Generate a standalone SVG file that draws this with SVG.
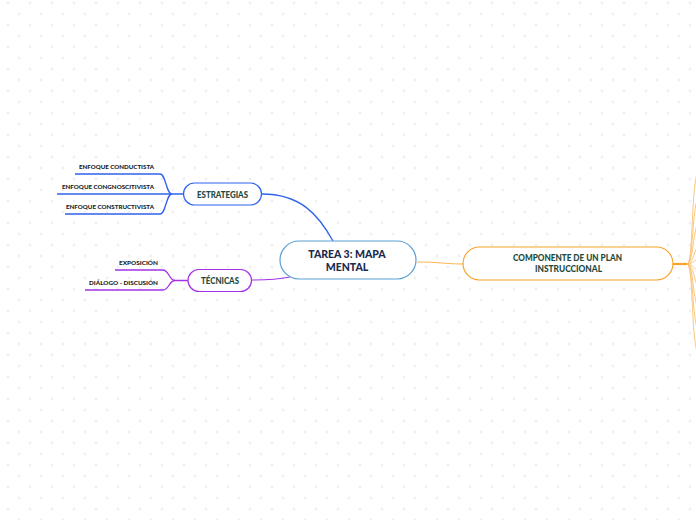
<svg xmlns="http://www.w3.org/2000/svg" width="696" height="520" viewBox="0 0 696 520">
<defs>
<pattern id="grid" x="0" y="0" width="22" height="22" patternUnits="userSpaceOnUse">
<path d="M8 1.5v3M6.5 3h3M19 12.5v3M17.5 14h3" stroke="#e4e4e4" stroke-width="0.7" fill="none"/>
</pattern>
<style>
.node{fill:#fff;stroke-width:1.2}
.lbl{font-family:Lato,"Open Sans",sans-serif;font-weight:900;text-anchor:middle}
.sub{font-family:Lato,"Open Sans",sans-serif;font-weight:900;font-size:6px;fill:#1a1a1a;text-anchor:end}
.blue{stroke:#2f63f0;fill:none}
.purple{stroke:#a332e6;fill:none}
.orange{stroke:#f7a326;fill:none}
.fan{stroke:#fbbf70;fill:none;stroke-width:0.9}
</style>
</defs>
<rect width="696" height="520" fill="#fff"/>
<rect width="696" height="520" fill="url(#grid)"/>
<g id="connectors">
<path class="blue" stroke-width="1.3" d="M262 194 C300 194 318 214 333 241"/>
<path class="purple" stroke-width="1.1" d="M290 277 C275 280 265 280 252 280"/>
<path class="orange" stroke-width="0.8" stroke="#fbc57c" d="M417 262 C440 262 445 264 463 264"/>
<path class="blue" stroke-width="1.3" d="M184 194 H172 C166 194 166 174 160 174 H75"/>
<path class="blue" stroke-width="1.3" d="M172 194 H57"/>
<path class="blue" stroke-width="1.3" d="M172 194 C166 194 166 214 160 214 H65"/>
<path class="purple" stroke-width="1.3" d="M188 280.5 H175 C169 280.5 169 270 163 270 H115"/>
<path class="purple" stroke-width="1.3" d="M175 280.5 C169 280.5 169 290 163 290 H85"/>
<path class="orange" stroke-width="2.2" d="M673 264 H687"/>
<path class="fan" d="M687 264 C694 264 690 180 700 165"/>
<path class="fan" d="M687 264 C694 264 691 205 700 192"/>
<path class="fan" d="M687 264 C694 264 692 228 700 220"/>
<path class="fan" d="M687 264 C694 264 694 248 700 243"/>
<path class="fan" d="M687 264 C694 264 696 258 700 258"/>
<path class="fan" d="M687 264 C694 264 696 272 700 272"/>
<path class="fan" d="M687 264 C694 264 694 284 700 290"/>
<path class="fan" d="M687 264 C694 264 692 302 700 312"/>
<path class="fan" d="M687 264 C694 264 691 322 700 336"/>
<path class="fan" d="M687 264 C694 264 690 345 700 360"/>
</g>
<g id="central">
<rect class="node" x="280" y="241" width="136" height="38" rx="19" stroke="#5a9fd6"/>
<text class="lbl" x="347" y="257.5" font-size="10.5" fill="#1b2a4e">TAREA 3: MAPA</text>
<text class="lbl" x="347" y="271" font-size="10.5" fill="#1b2a4e">MENTAL</text>
</g>
<g id="estrategias">
<rect class="node" x="183.5" y="183" width="78" height="22" rx="11" stroke="#2f63f0"/>
<text class="lbl" x="222.5" y="197.5" font-size="8.5" fill="#1d4a3c" textLength="51" lengthAdjust="spacingAndGlyphs">ESTRATEGIAS</text>
</g>
<g id="enfoque-conductista">
<text class="sub" x="154" y="169" textLength="75" lengthAdjust="spacingAndGlyphs">ENFOQUE CONDUCTISTA</text>
</g>
<g id="enfoque-congnoscitivista">
<text class="sub" x="154" y="188.5" textLength="92" lengthAdjust="spacingAndGlyphs">ENFOQUE CONGNOSCITIVISTA</text>
</g>
<g id="enfoque-constructivista">
<text class="sub" x="154" y="208.5" textLength="88" lengthAdjust="spacingAndGlyphs">ENFOQUE CONSTRUCTIVISTA</text>
</g>
<g id="tecnicas">
<rect class="node" x="188" y="269.5" width="63.5" height="22" rx="11" stroke="#a332e6"/>
<text class="lbl" x="220" y="283.5" font-size="8.5" fill="#1d4a3c" textLength="38" lengthAdjust="spacingAndGlyphs">TÉCNICAS</text>
</g>
<g id="exposicion">
<text class="sub" x="158" y="265" textLength="39" lengthAdjust="spacingAndGlyphs">EXPOSICIÓN</text>
</g>
<g id="dialogo-discusion">
<text class="sub" x="158" y="285" textLength="69" lengthAdjust="spacingAndGlyphs">DIÁLOGO - DISCUSIÓN</text>
</g>
<g id="componente">
<rect class="node" x="463" y="247" width="210" height="33" rx="16.5" stroke="#f7a326"/>
<text class="lbl" x="567.5" y="260.5" font-size="8.5" fill="#1d4a3c" textLength="109" lengthAdjust="spacingAndGlyphs">COMPONENTE DE UN PLAN</text>
<text class="lbl" x="568.5" y="272" font-size="8.5" fill="#1d4a3c" textLength="67" lengthAdjust="spacingAndGlyphs">INSTRUCCIONAL</text>
</g>
</svg>
